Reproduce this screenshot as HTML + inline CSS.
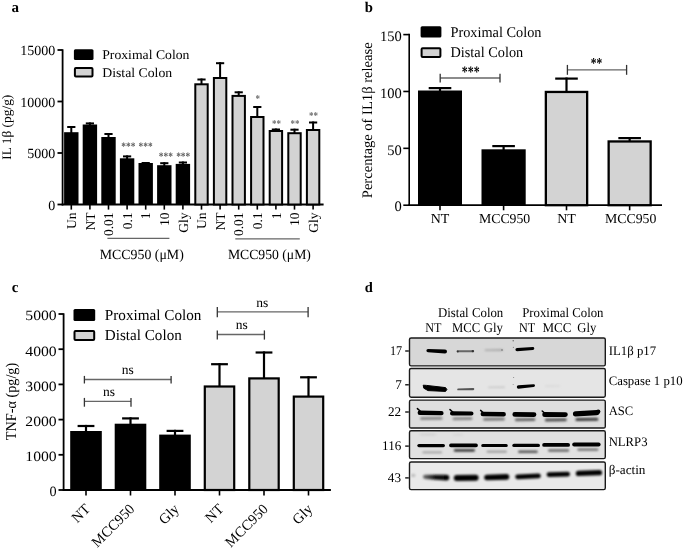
<!DOCTYPE html><html><head><meta charset="utf-8"><style>html,body{margin:0;padding:0;background:#fff;}svg{display:block;text-rendering:geometricPrecision;}</style></head><body>
<svg width="685" height="550" viewBox="0 0 685 550" font-family='"Liberation Serif", "Times New Roman", serif'>
<rect width="685" height="550" fill="#fff"/>
<defs><filter id="b40" x="-30%" y="-200%" width="160%" height="500%"><feGaussianBlur stdDeviation="0.4"/></filter><filter id="b50" x="-30%" y="-200%" width="160%" height="500%"><feGaussianBlur stdDeviation="0.5"/></filter><filter id="b55" x="-30%" y="-200%" width="160%" height="500%"><feGaussianBlur stdDeviation="0.55"/></filter><filter id="b60" x="-30%" y="-200%" width="160%" height="500%"><feGaussianBlur stdDeviation="0.6"/></filter><filter id="b70" x="-30%" y="-200%" width="160%" height="500%"><feGaussianBlur stdDeviation="0.7"/></filter><filter id="b80" x="-30%" y="-200%" width="160%" height="500%"><feGaussianBlur stdDeviation="0.8"/></filter><filter id="b90" x="-30%" y="-200%" width="160%" height="500%"><feGaussianBlur stdDeviation="0.9"/></filter></defs>
<text x="11.5" y="11.9" font-size="15" font-weight="bold">a</text>
<line x1="62.6" y1="49.3" x2="62.6" y2="205.4" stroke="#000" stroke-width="1.8"/>
<line x1="61.7" y1="204.5" x2="323.6" y2="204.5" stroke="#000" stroke-width="1.8"/>
<line x1="57.5" y1="204.5" x2="62.6" y2="204.5" stroke="#000" stroke-width="1.8"/>
<text x="55.2" y="209.8" font-size="14" text-anchor="end">0</text>
<line x1="57.5" y1="153" x2="62.6" y2="153" stroke="#000" stroke-width="1.8"/>
<text x="55.2" y="158.3" font-size="14" text-anchor="end">5000</text>
<line x1="57.5" y1="101.5" x2="62.6" y2="101.5" stroke="#000" stroke-width="1.8"/>
<text x="55.2" y="106.8" font-size="14" text-anchor="end">10000</text>
<line x1="57.5" y1="50" x2="62.6" y2="50" stroke="#000" stroke-width="1.8"/>
<text x="55.2" y="55.3" font-size="14" text-anchor="end">15000</text>
<line x1="71.3" y1="133.2" x2="71.3" y2="126" stroke="#000" stroke-width="2"/>
<line x1="67.2" y1="127" x2="75.4" y2="127" stroke="#000" stroke-width="2"/>
<rect x="64.1" y="132.2" width="14.4" height="72.3" fill="#000"/>
<line x1="71.3" y1="204.5" x2="71.3" y2="209.6" stroke="#000" stroke-width="1.6"/>
<text transform="translate(75.9,212.4) rotate(-90)" x="0" y="0" font-size="13.5" text-anchor="end">Un</text>
<line x1="89.9" y1="125.5" x2="89.9" y2="122.4" stroke="#000" stroke-width="2"/>
<line x1="85.8" y1="123.4" x2="94" y2="123.4" stroke="#000" stroke-width="2"/>
<rect x="82.7" y="124.5" width="14.4" height="80" fill="#000"/>
<line x1="89.9" y1="204.5" x2="89.9" y2="209.6" stroke="#000" stroke-width="1.6"/>
<text transform="translate(94.5,212.4) rotate(-90)" x="0" y="0" font-size="13.5" text-anchor="end">NT</text>
<line x1="108.5" y1="138" x2="108.5" y2="133" stroke="#000" stroke-width="2"/>
<line x1="104.4" y1="134" x2="112.6" y2="134" stroke="#000" stroke-width="2"/>
<rect x="101.3" y="137" width="14.4" height="67.5" fill="#000"/>
<line x1="108.5" y1="204.5" x2="108.5" y2="209.6" stroke="#000" stroke-width="1.6"/>
<text transform="translate(113.1,212.4) rotate(-90)" x="0" y="0" font-size="13.5" text-anchor="end">0.01</text>
<line x1="127.1" y1="159.3" x2="127.1" y2="155.4" stroke="#000" stroke-width="2"/>
<line x1="123" y1="156.4" x2="131.2" y2="156.4" stroke="#000" stroke-width="2"/>
<rect x="119.9" y="158.3" width="14.4" height="46.2" fill="#000"/>
<line x1="127.1" y1="204.5" x2="127.1" y2="209.6" stroke="#000" stroke-width="1.6"/>
<text transform="translate(131.7,212.4) rotate(-90)" x="0" y="0" font-size="13.5" text-anchor="end">0.1</text>
<line x1="145.7" y1="164" x2="145.7" y2="162" stroke="#000" stroke-width="2"/>
<line x1="141.6" y1="163" x2="149.8" y2="163" stroke="#000" stroke-width="2"/>
<rect x="138.5" y="163" width="14.4" height="41.5" fill="#000"/>
<line x1="145.7" y1="204.5" x2="145.7" y2="209.6" stroke="#000" stroke-width="1.6"/>
<text transform="translate(150.3,212.4) rotate(-90)" x="0" y="0" font-size="13.5" text-anchor="end">1</text>
<line x1="164.3" y1="166.2" x2="164.3" y2="162.2" stroke="#000" stroke-width="2"/>
<line x1="160.2" y1="163.2" x2="168.4" y2="163.2" stroke="#000" stroke-width="2"/>
<rect x="157.1" y="165.2" width="14.4" height="39.3" fill="#000"/>
<line x1="164.3" y1="204.5" x2="164.3" y2="209.6" stroke="#000" stroke-width="1.6"/>
<text transform="translate(168.9,212.4) rotate(-90)" x="0" y="0" font-size="13.5" text-anchor="end">10</text>
<line x1="182.9" y1="164.9" x2="182.9" y2="161.5" stroke="#000" stroke-width="2"/>
<line x1="178.8" y1="162.5" x2="187" y2="162.5" stroke="#000" stroke-width="2"/>
<rect x="175.7" y="163.9" width="14.4" height="40.6" fill="#000"/>
<line x1="182.9" y1="204.5" x2="182.9" y2="209.6" stroke="#000" stroke-width="1.6"/>
<text transform="translate(187.5,212.4) rotate(-90)" x="0" y="0" font-size="13.5" text-anchor="end">Gly</text>
<line x1="201.5" y1="84.3" x2="201.5" y2="78.5" stroke="#000" stroke-width="2"/>
<line x1="197.4" y1="79.5" x2="205.6" y2="79.5" stroke="#000" stroke-width="2"/>
<rect x="195.3" y="84.3" width="12.4" height="120.2" fill="#d3d3d3" stroke="#000" stroke-width="2"/>
<line x1="201.5" y1="204.5" x2="201.5" y2="209.6" stroke="#000" stroke-width="1.6"/>
<text transform="translate(206.1,212.4) rotate(-90)" x="0" y="0" font-size="13.5" text-anchor="end">Un</text>
<line x1="220.1" y1="78" x2="220.1" y2="62.2" stroke="#000" stroke-width="2"/>
<line x1="216" y1="63.2" x2="224.2" y2="63.2" stroke="#000" stroke-width="2"/>
<rect x="213.9" y="78" width="12.4" height="126.5" fill="#d3d3d3" stroke="#000" stroke-width="2"/>
<line x1="220.1" y1="204.5" x2="220.1" y2="209.6" stroke="#000" stroke-width="1.6"/>
<text transform="translate(224.7,212.4) rotate(-90)" x="0" y="0" font-size="13.5" text-anchor="end">NT</text>
<line x1="238.7" y1="95.9" x2="238.7" y2="91.3" stroke="#000" stroke-width="2"/>
<line x1="234.6" y1="92.3" x2="242.8" y2="92.3" stroke="#000" stroke-width="2"/>
<rect x="232.5" y="95.9" width="12.4" height="108.6" fill="#d3d3d3" stroke="#000" stroke-width="2"/>
<line x1="238.7" y1="204.5" x2="238.7" y2="209.6" stroke="#000" stroke-width="1.6"/>
<text transform="translate(243.3,212.4) rotate(-90)" x="0" y="0" font-size="13.5" text-anchor="end">0.01</text>
<line x1="257.3" y1="117" x2="257.3" y2="106" stroke="#000" stroke-width="2"/>
<line x1="253.2" y1="107" x2="261.4" y2="107" stroke="#000" stroke-width="2"/>
<rect x="251.1" y="117" width="12.4" height="87.5" fill="#d3d3d3" stroke="#000" stroke-width="2"/>
<line x1="257.3" y1="204.5" x2="257.3" y2="209.6" stroke="#000" stroke-width="1.6"/>
<text transform="translate(261.9,212.4) rotate(-90)" x="0" y="0" font-size="13.5" text-anchor="end">0.1</text>
<line x1="275.9" y1="131" x2="275.9" y2="128.5" stroke="#000" stroke-width="2"/>
<line x1="271.8" y1="129.5" x2="280" y2="129.5" stroke="#000" stroke-width="2"/>
<rect x="269.7" y="131" width="12.4" height="73.5" fill="#d3d3d3" stroke="#000" stroke-width="2"/>
<line x1="275.9" y1="204.5" x2="275.9" y2="209.6" stroke="#000" stroke-width="1.6"/>
<text transform="translate(280.5,212.4) rotate(-90)" x="0" y="0" font-size="13.5" text-anchor="end">1</text>
<line x1="294.5" y1="133.2" x2="294.5" y2="128.7" stroke="#000" stroke-width="2"/>
<line x1="290.4" y1="129.7" x2="298.6" y2="129.7" stroke="#000" stroke-width="2"/>
<rect x="288.3" y="133.2" width="12.4" height="71.3" fill="#d3d3d3" stroke="#000" stroke-width="2"/>
<line x1="294.5" y1="204.5" x2="294.5" y2="209.6" stroke="#000" stroke-width="1.6"/>
<text transform="translate(299.1,212.4) rotate(-90)" x="0" y="0" font-size="13.5" text-anchor="end">10</text>
<line x1="313.1" y1="130" x2="313.1" y2="121.5" stroke="#000" stroke-width="2"/>
<line x1="309" y1="122.5" x2="317.2" y2="122.5" stroke="#000" stroke-width="2"/>
<rect x="306.9" y="130" width="12.4" height="74.5" fill="#d3d3d3" stroke="#000" stroke-width="2"/>
<line x1="313.1" y1="204.5" x2="313.1" y2="209.6" stroke="#000" stroke-width="1.6"/>
<text transform="translate(317.7,212.4) rotate(-90)" x="0" y="0" font-size="13.5" text-anchor="end">Gly</text>
<text x="128.4" y="149.7" font-size="11.5" text-anchor="middle" textLength="14.1" lengthAdjust="spacingAndGlyphs" font-weight="bold" fill="#5c5c5c">***</text>
<text x="145.6" y="149.7" font-size="11.5" text-anchor="middle" textLength="14.1" lengthAdjust="spacingAndGlyphs" font-weight="bold" fill="#5c5c5c">***</text>
<text x="165.9" y="159.7" font-size="11.5" text-anchor="middle" textLength="14.1" lengthAdjust="spacingAndGlyphs" font-weight="bold" fill="#5c5c5c">***</text>
<text x="183.2" y="159.7" font-size="11.5" text-anchor="middle" textLength="14.1" lengthAdjust="spacingAndGlyphs" font-weight="bold" fill="#5c5c5c">***</text>
<text x="257.8" y="101.8" font-size="10.5" text-anchor="middle" textLength="4.5" lengthAdjust="spacingAndGlyphs" font-weight="bold" fill="#6e6e6e">*</text>
<text x="276.6" y="126.8" font-size="10.5" text-anchor="middle" textLength="9" lengthAdjust="spacingAndGlyphs" font-weight="bold" fill="#6e6e6e">**</text>
<text x="295" y="126.8" font-size="10.5" text-anchor="middle" textLength="9" lengthAdjust="spacingAndGlyphs" font-weight="bold" fill="#6e6e6e">**</text>
<text x="313.4" y="118.6" font-size="10.5" text-anchor="middle" textLength="9" lengthAdjust="spacingAndGlyphs" font-weight="bold" fill="#6e6e6e">**</text>
<line x1="107.4" y1="238.4" x2="169.4" y2="238.4" stroke="#666" stroke-width="1.2"/>
<line x1="235.3" y1="238.8" x2="299.8" y2="238.8" stroke="#666" stroke-width="1.2"/>
<text x="141.8" y="259.3" font-size="14" text-anchor="middle" textLength="84" lengthAdjust="spacingAndGlyphs">MCC950 (μM)</text>
<text x="269.4" y="258.7" font-size="14" text-anchor="middle" textLength="83" lengthAdjust="spacingAndGlyphs">MCC950 (μM)</text>
<text transform="translate(11,127.2) rotate(-90)" x="0" y="0" font-size="13" text-anchor="middle" textLength="65" lengthAdjust="spacingAndGlyphs">IL 1β (pg/g)</text>
<rect x="73.9" y="49.3" width="19.6" height="10.6" fill="#000" rx="1.5"/>
<rect x="74.9" y="67.9" width="17.6" height="8.5" fill="#d3d3d3" stroke="#000" stroke-width="2" rx="1"/>
<text x="102.2" y="59.2" font-size="13.3" textLength="87.3" lengthAdjust="spacingAndGlyphs">Proximal Colon</text>
<text x="102.2" y="76.7" font-size="13.3" textLength="70" lengthAdjust="spacingAndGlyphs">Distal Colon</text>
<text x="364.8" y="12.4" font-size="14.7" font-weight="bold">b</text>
<line x1="409.2" y1="33.8" x2="409.2" y2="206.1" stroke="#000" stroke-width="1.6"/>
<line x1="408.4" y1="205.2" x2="662" y2="205.2" stroke="#000" stroke-width="1.8"/>
<line x1="403.3" y1="205.2" x2="409.2" y2="205.2" stroke="#000" stroke-width="1.6"/>
<text x="401.8" y="211.4" font-size="14.5" text-anchor="end">0</text>
<line x1="403.3" y1="148.33" x2="409.2" y2="148.33" stroke="#000" stroke-width="1.6"/>
<text x="401.8" y="154.53" font-size="14.5" text-anchor="end">50</text>
<line x1="403.3" y1="91.47" x2="409.2" y2="91.47" stroke="#000" stroke-width="1.6"/>
<text x="401.8" y="97.67" font-size="14.5" text-anchor="end">100</text>
<line x1="403.3" y1="34.6" x2="409.2" y2="34.6" stroke="#000" stroke-width="1.6"/>
<text x="401.8" y="40.8" font-size="14.5" text-anchor="end">150</text>
<line x1="440" y1="91.5" x2="440" y2="87" stroke="#000" stroke-width="2.2"/>
<line x1="428.7" y1="88.1" x2="451.3" y2="88.1" stroke="#000" stroke-width="2.2"/>
<rect x="418" y="90.5" width="44" height="114.7" fill="#000"/>
<line x1="440" y1="205.2" x2="440" y2="210.3" stroke="#000" stroke-width="1.6"/>
<text x="440" y="223" font-size="13.7" text-anchor="middle" textLength="18.6" lengthAdjust="spacingAndGlyphs">NT</text>
<line x1="503.6" y1="150.3" x2="503.6" y2="145" stroke="#000" stroke-width="2.2"/>
<line x1="492.3" y1="146.1" x2="514.9" y2="146.1" stroke="#000" stroke-width="2.2"/>
<rect x="481.5" y="149.3" width="44.2" height="55.9" fill="#000"/>
<line x1="503.6" y1="205.2" x2="503.6" y2="210.3" stroke="#000" stroke-width="1.6"/>
<text x="504.6" y="223" font-size="13.7" text-anchor="middle" textLength="51.3" lengthAdjust="spacingAndGlyphs">MCC950</text>
<line x1="566.5" y1="91.8" x2="566.5" y2="77.5" stroke="#000" stroke-width="2.2"/>
<line x1="555.2" y1="78.6" x2="577.8" y2="78.6" stroke="#000" stroke-width="2.2"/>
<rect x="545.85" y="91.95" width="41.3" height="113.25" fill="#d3d3d3" stroke="#000" stroke-width="2.3"/>
<line x1="566.5" y1="205.2" x2="566.5" y2="210.3" stroke="#000" stroke-width="1.6"/>
<text x="566.5" y="223" font-size="13.7" text-anchor="middle" textLength="18.6" lengthAdjust="spacingAndGlyphs">NT</text>
<line x1="629.65" y1="141.3" x2="629.65" y2="137" stroke="#000" stroke-width="2.2"/>
<line x1="618.35" y1="138.1" x2="640.95" y2="138.1" stroke="#000" stroke-width="2.2"/>
<rect x="608.65" y="141.45" width="42" height="63.75" fill="#d3d3d3" stroke="#000" stroke-width="2.3"/>
<line x1="629.65" y1="205.2" x2="629.65" y2="210.3" stroke="#000" stroke-width="1.6"/>
<text x="630.65" y="223" font-size="13.7" text-anchor="middle" textLength="51.3" lengthAdjust="spacingAndGlyphs">MCC950</text>
<rect x="420.6" y="26.3" width="20.8" height="11.2" fill="#000" rx="1.5"/>
<rect x="421.6" y="48.3" width="18.8" height="8.8" fill="#d3d3d3" stroke="#000" stroke-width="2" rx="1"/>
<text x="450.5" y="36.8" font-size="14.8" textLength="91" lengthAdjust="spacingAndGlyphs">Proximal Colon</text>
<text x="450.5" y="57.4" font-size="14.8" textLength="72.7" lengthAdjust="spacingAndGlyphs">Distal Colon</text>
<line x1="440.2" y1="78" x2="500" y2="78" stroke="#666" stroke-width="1.3"/>
<line x1="440.2" y1="73.7" x2="440.2" y2="82.6" stroke="#333" stroke-width="1.3"/>
<line x1="500" y1="73.7" x2="500" y2="82.6" stroke="#333" stroke-width="1.3"/>
<text x="470.7" y="76.9" font-size="16" text-anchor="middle" textLength="17.8" lengthAdjust="spacingAndGlyphs" font-weight="bold">***</text>
<line x1="567.4" y1="69.8" x2="626.6" y2="69.8" stroke="#666" stroke-width="1.3"/>
<line x1="567.4" y1="64.9" x2="567.4" y2="74.8" stroke="#333" stroke-width="1.3"/>
<line x1="626.6" y1="64.9" x2="626.6" y2="74.8" stroke="#333" stroke-width="1.3"/>
<text x="596.5" y="67.6" font-size="15" text-anchor="middle" textLength="11.5" lengthAdjust="spacingAndGlyphs" font-weight="bold">**</text>
<text transform="translate(372.3,120.3) rotate(-90)" x="0" y="0" font-size="14.5" text-anchor="middle" textLength="155.8" lengthAdjust="spacingAndGlyphs">Percentage of IL1β release</text>
<text x="11.8" y="292" font-size="15" font-weight="bold">c</text>
<line x1="63.6" y1="313.3" x2="63.6" y2="490.9" stroke="#000" stroke-width="1.8"/>
<line x1="62.7" y1="490" x2="330.9" y2="490" stroke="#000" stroke-width="1.8"/>
<line x1="58.5" y1="490" x2="63.6" y2="490" stroke="#000" stroke-width="1.8"/>
<text x="56.7" y="496.35" font-size="14.2" text-anchor="end">0</text>
<line x1="58.5" y1="454.8" x2="63.6" y2="454.8" stroke="#000" stroke-width="1.8"/>
<text x="56.7" y="461.15" font-size="14.2" text-anchor="end" textLength="31.4" lengthAdjust="spacingAndGlyphs">1000</text>
<line x1="58.5" y1="419.6" x2="63.6" y2="419.6" stroke="#000" stroke-width="1.8"/>
<text x="56.7" y="425.95" font-size="14.2" text-anchor="end" textLength="31.4" lengthAdjust="spacingAndGlyphs">2000</text>
<line x1="58.5" y1="384.4" x2="63.6" y2="384.4" stroke="#000" stroke-width="1.8"/>
<text x="56.7" y="390.75" font-size="14.2" text-anchor="end" textLength="31.4" lengthAdjust="spacingAndGlyphs">3000</text>
<line x1="58.5" y1="349.2" x2="63.6" y2="349.2" stroke="#000" stroke-width="1.8"/>
<text x="56.7" y="355.55" font-size="14.2" text-anchor="end" textLength="31.4" lengthAdjust="spacingAndGlyphs">4000</text>
<line x1="58.5" y1="314" x2="63.6" y2="314" stroke="#000" stroke-width="1.8"/>
<text x="56.7" y="320.35" font-size="14.2" text-anchor="end" textLength="31.4" lengthAdjust="spacingAndGlyphs">5000</text>
<line x1="86" y1="432" x2="86" y2="424.9" stroke="#000" stroke-width="2.2"/>
<line x1="77.6" y1="426" x2="94.4" y2="426" stroke="#000" stroke-width="2.2"/>
<rect x="70.2" y="431" width="31.6" height="59" fill="#000"/>
<line x1="86" y1="490" x2="86" y2="495.5" stroke="#000" stroke-width="1.6"/>
<text transform="translate(91,509.8) rotate(-45)" x="0" y="0" font-size="14.5" text-anchor="end">NT</text>
<line x1="130.5" y1="424.7" x2="130.5" y2="417.3" stroke="#000" stroke-width="2.2"/>
<line x1="122.1" y1="418.4" x2="138.9" y2="418.4" stroke="#000" stroke-width="2.2"/>
<rect x="114.7" y="423.7" width="31.6" height="66.3" fill="#000"/>
<line x1="130.5" y1="490" x2="130.5" y2="495.5" stroke="#000" stroke-width="1.6"/>
<text transform="translate(135.5,509.8) rotate(-45)" x="0" y="0" font-size="14.5" text-anchor="end">MCC950</text>
<line x1="175" y1="435.6" x2="175" y2="429.8" stroke="#000" stroke-width="2.2"/>
<line x1="166.6" y1="430.9" x2="183.4" y2="430.9" stroke="#000" stroke-width="2.2"/>
<rect x="159.2" y="434.6" width="31.6" height="55.4" fill="#000"/>
<line x1="175" y1="490" x2="175" y2="495.5" stroke="#000" stroke-width="1.6"/>
<text transform="translate(180,509.8) rotate(-45)" x="0" y="0" font-size="14.5" text-anchor="end">Gly</text>
<line x1="219.5" y1="386.4" x2="219.5" y2="363.1" stroke="#000" stroke-width="2.2"/>
<line x1="211.1" y1="364.2" x2="227.9" y2="364.2" stroke="#000" stroke-width="2.2"/>
<rect x="204.8" y="386.5" width="29.4" height="103.5" fill="#d3d3d3" stroke="#000" stroke-width="2.2"/>
<line x1="219.5" y1="490" x2="219.5" y2="495.5" stroke="#000" stroke-width="1.6"/>
<text transform="translate(224.5,509.8) rotate(-45)" x="0" y="0" font-size="14.5" text-anchor="end">NT</text>
<line x1="264" y1="378.3" x2="264" y2="351.4" stroke="#000" stroke-width="2.2"/>
<line x1="255.6" y1="352.5" x2="272.4" y2="352.5" stroke="#000" stroke-width="2.2"/>
<rect x="249.3" y="378.4" width="29.4" height="111.6" fill="#d3d3d3" stroke="#000" stroke-width="2.2"/>
<line x1="264" y1="490" x2="264" y2="495.5" stroke="#000" stroke-width="1.6"/>
<text transform="translate(269,509.8) rotate(-45)" x="0" y="0" font-size="14.5" text-anchor="end">MCC950</text>
<line x1="308.5" y1="396.5" x2="308.5" y2="376.2" stroke="#000" stroke-width="2.2"/>
<line x1="300.1" y1="377.3" x2="316.9" y2="377.3" stroke="#000" stroke-width="2.2"/>
<rect x="293.8" y="396.6" width="29.4" height="93.4" fill="#d3d3d3" stroke="#000" stroke-width="2.2"/>
<line x1="308.5" y1="490" x2="308.5" y2="495.5" stroke="#000" stroke-width="1.6"/>
<text transform="translate(313.5,509.8) rotate(-45)" x="0" y="0" font-size="14.5" text-anchor="end">Gly</text>
<rect x="73.5" y="308.9" width="21.7" height="12.1" fill="#000" rx="1.5"/>
<rect x="74.5" y="330.9" width="19.7" height="9" fill="#d3d3d3" stroke="#000" stroke-width="2" rx="1"/>
<text x="104.8" y="319.9" font-size="15.3" textLength="96.6" lengthAdjust="spacingAndGlyphs">Proximal Colon</text>
<text x="104.8" y="339.7" font-size="15.3" textLength="77" lengthAdjust="spacingAndGlyphs">Distal Colon</text>
<line x1="84.4" y1="401.4" x2="131" y2="401.4" stroke="#666" stroke-width="1.3"/>
<line x1="84.4" y1="397.9" x2="84.4" y2="406.7" stroke="#333" stroke-width="1.3"/>
<line x1="131" y1="397.9" x2="131" y2="406.7" stroke="#333" stroke-width="1.3"/>
<text x="109" y="396.3" font-size="13.5" text-anchor="middle">ns</text>
<line x1="84.4" y1="379.5" x2="171.1" y2="379.5" stroke="#666" stroke-width="1.3"/>
<line x1="84.4" y1="375.9" x2="84.4" y2="383.5" stroke="#333" stroke-width="1.3"/>
<line x1="171.1" y1="375.9" x2="171.1" y2="383.5" stroke="#333" stroke-width="1.3"/>
<text x="127.7" y="374.3" font-size="13.5" text-anchor="middle">ns</text>
<line x1="217.3" y1="334.5" x2="264.4" y2="334.5" stroke="#666" stroke-width="1.3"/>
<line x1="217.3" y1="330.4" x2="217.3" y2="339.6" stroke="#333" stroke-width="1.3"/>
<line x1="264.4" y1="330.4" x2="264.4" y2="339.6" stroke="#333" stroke-width="1.3"/>
<text x="241.8" y="329.3" font-size="13.5" text-anchor="middle">ns</text>
<line x1="217.3" y1="311.8" x2="308.1" y2="311.8" stroke="#666" stroke-width="1.3"/>
<line x1="217.3" y1="306.9" x2="217.3" y2="317.3" stroke="#333" stroke-width="1.3"/>
<line x1="308.1" y1="306.9" x2="308.1" y2="317.3" stroke="#333" stroke-width="1.3"/>
<text x="262.3" y="306.6" font-size="13.5" text-anchor="middle">ns</text>
<text transform="translate(16.4,401.5) rotate(-90)" x="0" y="0" font-size="15" text-anchor="middle" textLength="77.5" lengthAdjust="spacingAndGlyphs">TNF-α (pg/g)</text>
<text x="364.7" y="291.9" font-size="14.5" font-weight="bold">d</text>
<text x="438" y="316.7" font-size="13.5" textLength="65.3" lengthAdjust="spacingAndGlyphs">Distal Colon</text>
<text x="522.2" y="316.6" font-size="13.5" textLength="81.3" lengthAdjust="spacingAndGlyphs">Proximal Colon</text>
<text x="425.3" y="331.8" font-size="13.5" textLength="16.2" lengthAdjust="spacingAndGlyphs">NT</text>
<text x="452" y="331.8" font-size="13.5" textLength="28.2" lengthAdjust="spacingAndGlyphs">MCC</text>
<text x="483.7" y="331.8" font-size="13.5" textLength="19.2" lengthAdjust="spacingAndGlyphs">Gly</text>
<text x="519" y="331.8" font-size="13.5" textLength="16.2" lengthAdjust="spacingAndGlyphs">NT</text>
<text x="542.4" y="331.8" font-size="13.5" textLength="29" lengthAdjust="spacingAndGlyphs">MCC</text>
<text x="577.3" y="331.8" font-size="13.5" textLength="18.9" lengthAdjust="spacingAndGlyphs">Gly</text>
<rect x="409.5" y="338" width="195.8" height="27.9" fill="#d7d7d7" stroke="#1a1a1a" stroke-width="1.4" rx="1.6"/>
<rect x="409.5" y="368.5" width="195.8" height="28.7" fill="#e5e5e5" stroke="#1a1a1a" stroke-width="1.4" rx="1.6"/>
<rect x="409.5" y="400.1" width="195.8" height="27.9" fill="#dedede" stroke="#1a1a1a" stroke-width="1.4" rx="1.6"/>
<rect x="409.5" y="430.8" width="195.8" height="27.8" fill="#e1e1e1" stroke="#1a1a1a" stroke-width="1.4" rx="1.6"/>
<rect x="409.5" y="462" width="195.8" height="27.6" fill="#e9e9e9" stroke="#1a1a1a" stroke-width="1.4" rx="1.6"/>
<text x="402.2" y="354.8" font-size="13.2" text-anchor="end" textLength="12.2" lengthAdjust="spacingAndGlyphs">17</text>
<line x1="405.2" y1="351" x2="408.8" y2="351" stroke="#000" stroke-width="1.3"/>
<text x="401.9" y="388.6" font-size="13.2" text-anchor="end">7</text>
<line x1="405.2" y1="384.8" x2="408.8" y2="384.8" stroke="#000" stroke-width="1.3"/>
<text x="401.2" y="415.8" font-size="13.2" text-anchor="end">22</text>
<line x1="405.2" y1="412" x2="408.8" y2="412" stroke="#000" stroke-width="1.3"/>
<text x="401.3" y="449.9" font-size="13.2" text-anchor="end" textLength="19.2" lengthAdjust="spacingAndGlyphs">116</text>
<line x1="405.2" y1="446.1" x2="408.8" y2="446.1" stroke="#000" stroke-width="1.3"/>
<text x="401" y="481.7" font-size="13.2" text-anchor="end">43</text>
<line x1="405.2" y1="477.9" x2="408.8" y2="477.9" stroke="#000" stroke-width="1.3"/>
<text x="608.7" y="355.1" font-size="13" textLength="47.4" lengthAdjust="spacingAndGlyphs">IL1β p17</text>
<text x="608.7" y="384.5" font-size="13" textLength="73.9" lengthAdjust="spacingAndGlyphs">Caspase 1 p10</text>
<text x="608.7" y="414.8" font-size="13" textLength="24.6" lengthAdjust="spacingAndGlyphs">ASC</text>
<text x="608.7" y="446.1" font-size="13" textLength="38.8" lengthAdjust="spacingAndGlyphs">NLRP3</text>
<text x="608.7" y="474.2" font-size="13" textLength="36.8" lengthAdjust="spacingAndGlyphs">β-actin</text>
<path d="M428,349 L445,349.5 A2,2 0 0 1 445,353.5 L428,352.2 A1.6,1.6 0 0 1 428,349 Z" fill="#000" filter="url(#b75)"/>
<path d="M457.55,350.35 L473.15,350.15 A1.05,1.05 0 0 1 473.15,352.25 L457.55,352.25 A0.95,0.95 0 0 1 457.55,350.35 Z" fill="#666" filter="url(#b70)"/>
<circle cx="457.8" cy="351.4" r="1.0" fill="#333" filter="url(#b60)"/><circle cx="472.8" cy="351.1" r="1.2" fill="#333" filter="url(#b60)"/>
<path d="M485.3,349.4 L502.1,349.1 A0.9,0.9 0 0 1 502.1,350.9 L485.3,351 A0.8,0.8 0 0 1 485.3,349.4 Z" fill="#a8a8a8" filter="url(#b80)"/>
<circle cx="502" cy="350" r="0.9" fill="#888" filter="url(#b60)"/>
<path d="M517.05,347.95 L532.85,347.05 A1.45,1.45 0 0 1 532.85,349.95 L517.05,351.25 A1.65,1.65 0 0 1 517.05,347.95 Z" fill="#000" filter="url(#b70)"/>
<circle cx="513.2" cy="340.8" r="0.7" fill="#666" filter="url(#b50)"/><circle cx="513.4" cy="347.4" r="0.6" fill="#888" filter="url(#b50)"/><circle cx="513.6" cy="377.5" r="0.6" fill="#888" filter="url(#b50)"/><circle cx="513.2" cy="384.5" r="0.6" fill="#999" filter="url(#b50)"/>
<path d="M423.2,385.2 L426.5,385.4 L445.5,387.6 L446.9,389.5 L445.5,391.4 L428,390.6 L423.8,388.2 Z" fill="#000" stroke="#000" stroke-width="1" stroke-linejoin="round" filter="url(#b75)"/>
<path d="M458.15,388.45 L473.25,388.05 A1.05,1.05 0 0 1 473.25,390.15 L458.15,390.35 A0.95,0.95 0 0 1 458.15,388.45 Z" fill="#555" filter="url(#b70)"/>
<path d="M488.7,386.7 L504.3,386.6 A0.7,0.7 0 0 1 504.3,388 L488.7,388.1 A0.7,0.7 0 0 1 488.7,386.7 Z" fill="#c4c4c4" filter="url(#b80)"/>
<path d="M545.6,385.6 L559.4,385.4 A0.6,0.6 0 0 1 559.4,386.6 L545.6,386.8 A0.6,0.6 0 0 1 545.6,385.6 Z" fill="#d4d4d4" filter="url(#b80)"/>
<path d="M518.45,385.35 L533.55,384.15 A1.45,1.45 0 0 1 533.55,387.05 L518.45,388.65 A1.65,1.65 0 0 1 518.45,385.35 Z" fill="#000" filter="url(#b70)"/>
<path d="M421.6,416.9 L441.1,416.7 A1.5,1.5 0 0 1 441.1,419.7 L421.6,419.9 A1.5,1.5 0 0 1 421.6,416.9 Z" fill="#8a8a8a" filter="url(#b80)"/>
<path d="M419.8,410.6 L441.5,411.1 A2.1,2.1 0 0 1 441.5,415.3 L419.8,415 A2.2,2.2 0 0 1 419.8,410.6 Z" fill="#000" filter="url(#b70)"/>
<path d="M454,417.2 L471,417 A1.5,1.5 0 0 1 471,420 L454,420.2 A1.5,1.5 0 0 1 454,417.2 Z" fill="#8a8a8a" filter="url(#b80)"/>
<path d="M452.1,411.3 L471.5,411.6 A2,2 0 0 1 471.5,415.6 L452.1,415.5 A2.1,2.1 0 0 1 452.1,411.3 Z" fill="#000" filter="url(#b70)"/>
<path d="M484.6,417.7 L503.4,417.5 A1.5,1.5 0 0 1 503.4,420.5 L484.6,420.7 A1.5,1.5 0 0 1 484.6,417.7 Z" fill="#7a7a7a" filter="url(#b80)"/>
<path d="M482.8,411.8 L503.7,412.1 A2.2,2.2 0 0 1 503.7,416.5 L482.8,416.2 A2.2,2.2 0 0 1 482.8,411.8 Z" fill="#000" filter="url(#b70)"/>
<path d="M516.4,418.2 L533.9,418 A1.5,1.5 0 0 1 533.9,421 L516.4,421.2 A1.5,1.5 0 0 1 516.4,418.2 Z" fill="#666" filter="url(#b80)"/>
<path d="M514.8,412 L534.1,412.3 A2.3,2.3 0 0 1 534.1,416.9 L514.8,416.8 A2.4,2.4 0 0 1 514.8,412 Z" fill="#000" filter="url(#b70)"/>
<path d="M546.3,418.5 L565.3,418.3 A1.5,1.5 0 0 1 565.3,421.3 L546.3,421.5 A1.5,1.5 0 0 1 546.3,418.5 Z" fill="#505050" filter="url(#b80)"/>
<path d="M544.8,412.1 L565.4,412.2 A2.4,2.4 0 0 1 565.4,417 L544.8,417.1 A2.5,2.5 0 0 1 544.8,412.1 Z" fill="#000" filter="url(#b70)"/>
<path d="M576.9,417.9 L596.9,417.7 A1.5,1.5 0 0 1 596.9,420.7 L576.9,420.9 A1.5,1.5 0 0 1 576.9,417.9 Z" fill="#3a3a3a" filter="url(#b80)"/>
<path d="M575.5,411.2 L596.8,410 A2.6,2.6 0 0 1 596.8,415.2 L575.5,416.4 A2.6,2.6 0 0 1 575.5,411.2 Z" fill="#000" filter="url(#b70)"/>
<path d="M417.4,408.6 L420.4,411.2" stroke="#000" stroke-width="1.5" stroke-linecap="round" filter="url(#b50)"/>
<path d="M450,409.6 L453,412.2" stroke="#000" stroke-width="1.5" stroke-linecap="round" filter="url(#b50)"/>
<path d="M480.6,410.4 L483.6,413" stroke="#000" stroke-width="1.5" stroke-linecap="round" filter="url(#b50)"/>
<path d="M542.2,411 L545.2,413.6" stroke="#000" stroke-width="1.5" stroke-linecap="round" filter="url(#b50)"/>
<circle cx="598.2" cy="411.6" r="2.2" fill="#000" filter="url(#b60)"/>
<ellipse cx="428" cy="434.5" rx="9" ry="1.6" fill="#d4d4d4" filter="url(#b90)"/><ellipse cx="458" cy="434.8" rx="6" ry="1.4" fill="#d8d8d8" filter="url(#b90)"/>
<path d="M423.3,451.5 L441.2,451.5 A0.9,0.9 0 0 1 441.2,453.3 L423.3,453.3 A0.9,0.9 0 0 1 423.3,451.5 Z" fill="#9a9a9a" filter="url(#b80)"/>
<path d="M418.95,443.95 L443.35,443.95 A1.65,1.65 0 0 1 443.35,447.25 L418.95,447.25 A1.65,1.65 0 0 1 418.95,443.95 Z" fill="#000" filter="url(#b75)"/>
<path d="M455.1,449.1 L473.7,449.1 A1.3,1.3 0 0 1 473.7,451.7 L455.1,451.7 A1.3,1.3 0 0 1 455.1,449.1 Z" fill="#3a3a3a" filter="url(#b80)"/>
<path d="M450.9,443.6 L476.1,443.6 A1.8,1.8 0 0 1 476.1,447.2 L450.9,447.2 A1.8,1.8 0 0 1 450.9,443.6 Z" fill="#000" filter="url(#b75)"/>
<path d="M487.5,450.7 L506.1,450.7 A0.9,0.9 0 0 1 506.1,452.5 L487.5,452.5 A0.9,0.9 0 0 1 487.5,450.7 Z" fill="#8e8e8e" filter="url(#b80)"/>
<path d="M482.75,443.95 L506.25,443.95 A1.55,1.55 0 0 1 506.25,447.05 L482.75,447.05 A1.55,1.55 0 0 1 482.75,443.95 Z" fill="#000" filter="url(#b75)"/>
<path d="M519.3,450.6 L536.6,450.6 A1.2,1.2 0 0 1 536.6,453 L519.3,453 A1.2,1.2 0 0 1 519.3,450.6 Z" fill="#555" filter="url(#b80)"/>
<path d="M514,443.7 L538.3,443.7 A1.7,1.7 0 0 1 538.3,447.1 L514,447.1 A1.7,1.7 0 0 1 514,443.7 Z" fill="#000" filter="url(#b75)"/>
<path d="M549.3,449.2 L567.9,449.2 A1.3,1.3 0 0 1 567.9,451.8 L549.3,451.8 A1.3,1.3 0 0 1 549.3,449.2 Z" fill="#666" filter="url(#b80)"/>
<path d="M544.15,442.95 L568.05,442.95 A1.95,1.95 0 0 1 568.05,446.85 L544.15,446.85 A1.95,1.95 0 0 1 544.15,442.95 Z" fill="#000" filter="url(#b75)"/>
<path d="M578.5,448.4 L597.2,448.4 A1.2,1.2 0 0 1 597.2,450.8 L578.5,450.8 A1.2,1.2 0 0 1 578.5,448.4 Z" fill="#6a6a6a" filter="url(#b80)"/>
<path d="M574.2,442.5 L598.6,442.5 A2,2 0 0 1 598.6,446.5 L574.2,446.5 A2,2 0 0 1 574.2,442.5 Z" fill="#000" filter="url(#b75)"/>
<defs><linearGradient id="g1" x1="0" x2="1" y1="0" y2="0"><stop offset="0" stop-color="#777"/><stop offset="0.45" stop-color="#111"/><stop offset="1" stop-color="#000"/></linearGradient></defs>
<path d="M425,474.7 L446.4,474.7 A2.9,2.9 0 0 1 446.4,480.5 L425,478.9 A2.1,2.1 0 0 1 425,474.7 Z" fill="url(#g1)" filter="url(#b80)"/>
<path d="M456.8,475 L475.6,474.8 A3,3 0 0 1 475.6,480.8 L456.8,481 A3,3 0 0 1 456.8,475 Z" fill="#000" filter="url(#b80)"/>
<path d="M486.9,474.8 L506.4,473.9 A2.9,2.9 0 0 1 506.4,479.7 L486.9,480.2 A2.7,2.7 0 0 1 486.9,474.8 Z" fill="#000" filter="url(#b80)"/>
<path d="M517.6,474.4 L538.4,473.5 A2.4,2.4 0 0 1 538.4,478.3 L517.6,479.2 A2.4,2.4 0 0 1 517.6,474.4 Z" fill="#000" filter="url(#b80)"/>
<path d="M548.9,472.3 L567.6,471.8 A2.4,2.4 0 0 1 567.6,476.6 L548.9,476.9 A2.3,2.3 0 0 1 548.9,472.3 Z" fill="#000" filter="url(#b80)"/>
<path d="M578.4,470.8 L599.5,470.1 A2.6,2.6 0 0 1 599.5,475.3 L578.4,476 A2.6,2.6 0 0 1 578.4,470.8 Z" fill="#000" filter="url(#b80)"/>
<ellipse cx="413.2" cy="475.4" rx="2.2" ry="1.6" fill="#bbb" filter="url(#b80)"/>
</svg></body></html>
